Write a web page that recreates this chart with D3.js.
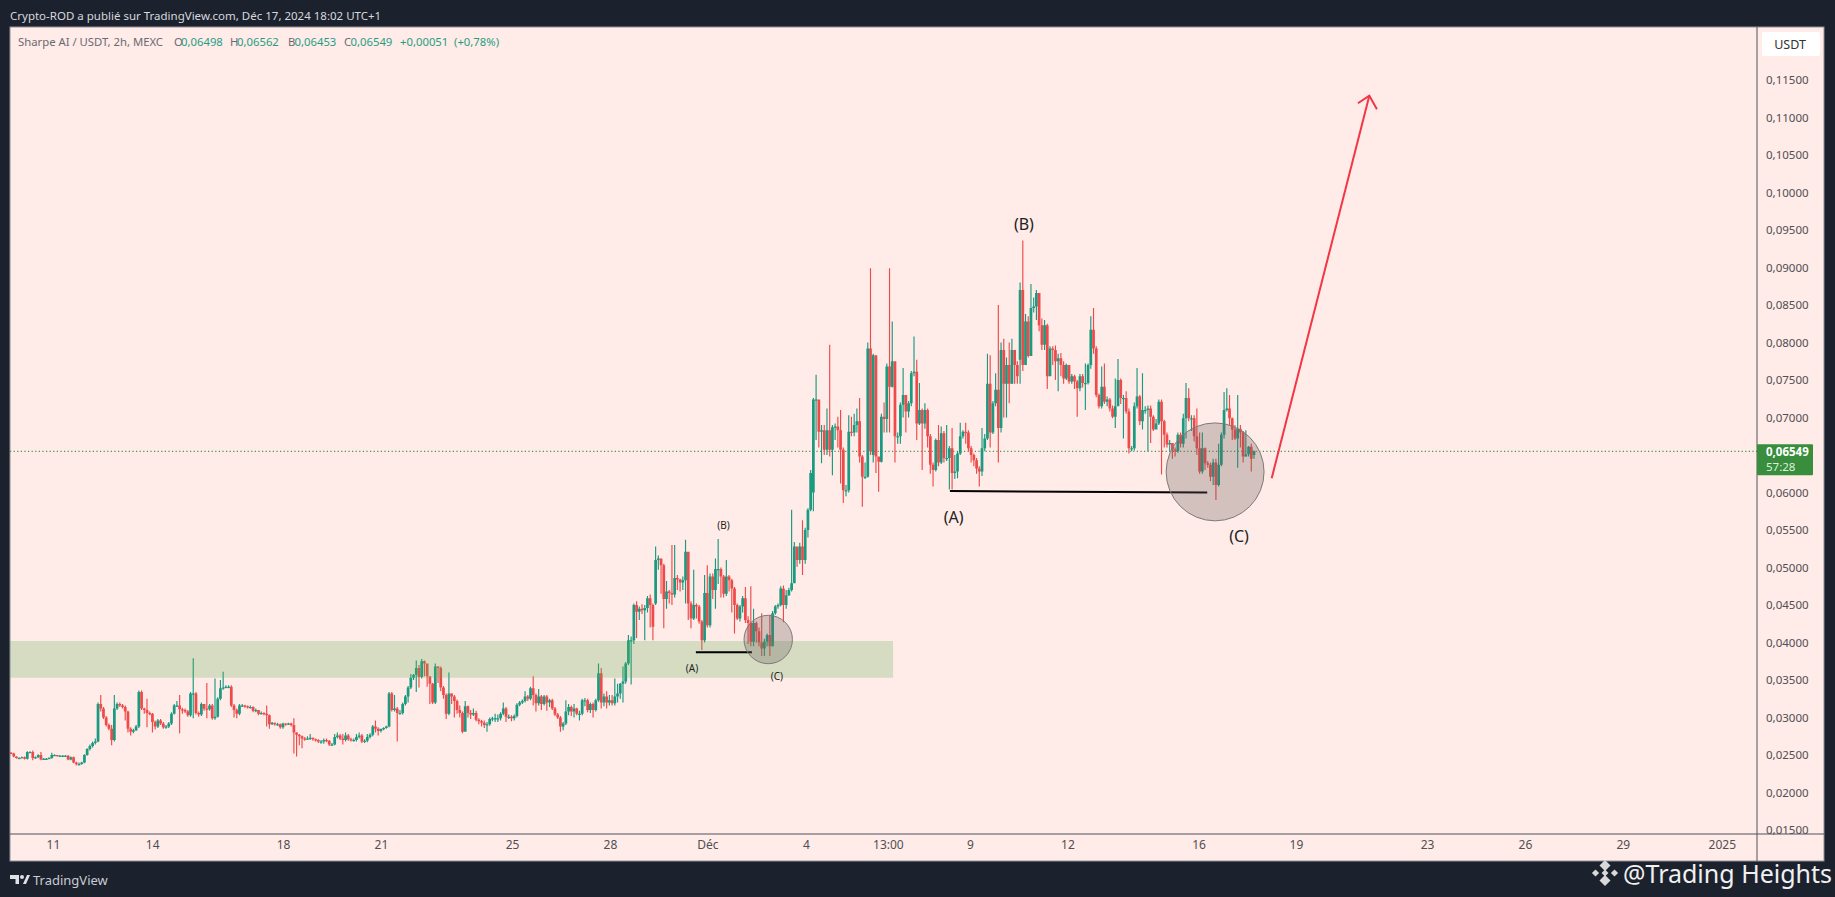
<!DOCTYPE html>
<html lang="fr"><head><meta charset="utf-8"><title>Sharpe AI / USDT</title>
<script src="https://cdn.jsdelivr.net/npm/d3@7/dist/d3.min.js"></script>
<style>html,body{margin:0;padding:0;background:#1c212e;overflow:hidden}svg{display:block}text{font-family:"Noto Sans",sans-serif}</style>
</head><body><svg id="c" width="1835" height="897"></svg>
<script>
// Prices are in units of 0.0001 USDT; one entry per 2h bar
const opens=[253,252,248,246,246,247,245,254,254,246,
247,250,244,245,245,246,250,250,249,249,
249,249,244,247,240,238,238,240,250,258,
262,266,268,318,312,300,290,285,270,312,
318,316,314,308,285,281,283,288,334,312,
310,306,305,294,288,296,292,287,288,292,
305,316,316,311,310,308,303,332,332,306,
304,318,312,311,316,299,301,325,339,340,
341,341,316,310,305,316,316,315,314,314,
309,310,305,306,305,303,291,293,291,291,
287,292,291,292,290,280,277,275,272,271,
272,273,271,270,268,268,270,269,264,264,
274,276,272,270,276,271,270,270,274,276,
268,269,274,277,288,285,282,285,286,288,
332,310,312,306,306,318,328,340,353,357,
366,354,375,372,355,345,320,368,366,340,
330,305,332,328,322,310,306,281,315,306,
304,306,297,295,293,290,291,298,299,299,
299,305,312,301,301,299,302,317,320,322,
328,325,339,330,319,328,318,328,320,323,
312,304,300,288,292,308,314,308,312,305,
305,323,323,310,318,310,323,359,320,328,
320,323,319,328,332,345,348,372,403,403,
450,441,445,443,446,459,450,452,510,512,
503,458,468,466,464,486,484,480,483,521,
452,432,450,448,428,403,466,423,488,470,
498,498,488,465,488,483,472,450,432,448,
459,430,426,401,426,415,400,392,401,410,
395,439,448,450,472,450,463,470,479,528,
510,528,510,550,577,600,724,724,681,683,
657,683,657,687,688,683,657,603,603,681,
680,690,695,648,621,621,792,650,783,648,
641,701,698,768,741,775,675,675,717,730,
708,719,759,761,692,710,692,710,675,637,
630,670,640,679,646,646,659,626,628,652,
675,681,680,659,650,643,632,628,659,672,
745,680,719,737,686,790,745,770,745,790,
770,777,870,770,828,782,846,848,866,823,
797,823,755,792,790,775,779,770,752,770,
748,755,748,739,755,746,746,770,817,792,
730,715,741,721,724,712,701,715,750,726,
726,708,659,659,715,728,695,710,710,712,
701,684,692,721,695,677,664,666,657,655,
677,665,699,726,699,699,675,659,628,659,
639,637,621,640,610,637,677,710,712,699,
684,672,685,680,648,651,661,650];
const closes=[252,248,246,246,247,245,254,254,246,247,
250,244,245,245,246,250,250,249,249,249,
249,244,247,240,238,238,240,250,258,262,
266,268,318,312,300,290,285,270,312,318,
316,314,308,285,281,283,288,334,312,310,
306,305,294,288,296,292,287,288,292,305,
316,316,311,310,308,303,332,332,306,304,
318,312,311,316,299,301,325,339,340,341,
341,316,310,305,316,316,315,314,314,309,
310,305,306,305,303,291,293,291,291,287,
292,291,292,290,280,277,275,272,271,272,
273,271,270,268,268,270,269,264,264,274,
276,272,270,276,271,270,270,274,276,268,
269,274,277,288,285,282,285,286,288,332,
310,312,306,306,318,328,340,353,357,366,
354,375,372,355,345,320,368,366,340,330,
305,332,328,322,310,306,281,315,306,304,
306,297,295,293,290,291,298,299,299,299,
305,312,301,301,299,302,317,320,322,328,
325,339,330,319,328,318,328,320,323,312,
304,300,288,292,308,314,308,312,305,305,
323,323,310,318,310,323,359,320,328,320,
323,319,328,332,345,348,372,403,403,450,
441,445,443,446,459,450,421,510,512,503,
458,468,466,464,486,484,480,483,521,452,
432,450,448,428,403,466,423,488,470,498,
498,488,465,488,483,472,450,432,448,459,
430,426,401,426,415,400,392,401,410,395,
439,448,450,472,450,463,470,479,528,510,
528,510,550,577,626,724,724,681,683,657,
683,657,687,688,683,657,603,603,681,680,
690,695,648,621,621,792,655,783,648,641,
701,698,768,741,775,675,675,717,730,708,
719,759,761,692,710,692,710,675,637,630,
670,640,679,646,646,659,626,628,652,675,
681,680,659,650,643,632,628,659,672,745,
680,719,737,686,790,745,770,745,790,770,
755,870,770,828,782,846,848,866,823,797,
823,755,792,790,775,779,770,752,770,748,
755,748,739,755,746,746,770,817,792,730,
715,741,721,724,712,701,715,750,726,726,
708,659,659,715,728,695,710,710,712,701,
684,692,721,695,677,664,666,657,655,677,
665,699,726,699,699,675,659,628,659,639,
637,621,640,610,637,677,710,712,699,684,
672,685,680,648,651,661,645,655];
const highs=[254,253,248,247,248,248,255,255,256,248,
251,254,246,246,247,253,251,250,250,250,
250,250,248,248,241,240,241,251,259,264,
268,272,320,330,314,302,292,290,330,320,
320,318,316,309,287,285,290,336,336,313,
325,308,306,296,298,298,294,290,294,307,
318,322,330,313,312,310,334,379,334,308,
320,314,346,318,318,352,327,350,361,343,
343,343,318,312,318,318,317,316,316,315,
312,308,308,307,316,304,294,293,293,292,
293,292,293,293,299,280,278,276,274,275,
278,273,272,271,270,272,272,270,266,278,
280,278,278,280,278,273,272,278,280,278,
271,278,279,290,296,287,284,287,289,334,
334,330,314,310,320,330,342,358,358,376,
370,378,376,370,347,346,372,368,368,342,
332,360,332,330,324,316,308,322,316,310,
312,309,299,297,296,294,300,301,305,304,
307,320,314,304,303,304,319,322,324,335,
330,341,355,332,338,330,330,330,325,325,
314,306,302,294,323,318,316,318,313,309,
325,326,325,320,320,325,372,366,332,335,
330,330,352,345,346,368,374,410,408,452,
455,448,451,450,462,464,452,528,516,506,
505,482,470,530,530,490,485,488,537,455,
455,497,452,450,430,490,503,492,492,512,
538,500,490,510,490,485,474,452,450,462,
474,435,475,445,428,420,439,405,412,437,
442,450,452,475,476,470,473,577,534,515,
533,563,553,579,630,726,757,685,690,690,
712,797,690,692,701,710,660,610,703,701,
705,712,726,650,640,800,899,785,762,645,
705,720,772,899,828,770,680,720,766,715,
722,762,808,777,746,712,719,712,678,640,
672,690,688,682,690,662,686,650,655,693,
683,693,683,662,652,646,635,686,678,785,
783,722,759,850,800,805,780,800,805,790,
775,880,936,838,835,878,860,870,840,832,
830,825,795,795,796,785,786,775,772,760,
758,757,750,758,758,772,772,835,846,795,
732,768,772,728,726,716,752,778,752,730,
735,712,662,720,766,730,759,715,716,716,
703,698,724,724,697,680,670,660,660,680,
680,705,746,739,703,703,712,680,680,660,
642,640,645,645,665,680,734,739,730,700,
690,730,690,682,683,662,665,656];
const lows=[251,247,245,245,246,244,244,253,243,245,
246,243,244,244,245,245,249,248,248,248,
248,243,243,239,236,236,237,239,249,256,
260,264,267,308,298,288,283,263,268,310,
314,312,296,280,276,279,282,286,310,305,
287,303,280,284,286,290,285,285,286,290,
304,314,279,305,306,301,301,299,304,301,
302,309,299,309,297,297,300,323,337,339,
339,314,300,299,303,314,313,312,312,307,
307,303,304,303,288,285,290,289,289,285,
285,289,290,288,252,248,263,259,269,270,
270,269,268,266,265,265,267,262,262,263,
272,270,264,268,269,268,268,268,272,266,
266,267,272,275,280,276,280,283,285,287,
308,308,268,304,304,316,320,338,350,334,
340,352,355,341,318,318,318,346,335,325,
298,303,318,300,305,300,279,304,300,298,
302,295,291,288,286,281,289,295,294,294,
296,303,294,298,295,296,300,315,318,320,
322,323,316,308,316,310,316,309,314,310,
302,298,281,283,290,303,302,300,303,296,
303,315,307,306,300,308,321,312,315,312,
316,316,316,320,325,320,345,370,344,398,
406,430,438,403,440,420,403,450,497,465,
419,445,452,450,460,470,468,470,452,430,
419,430,432,425,390,400,420,420,458,445,
478,460,460,462,468,440,412,430,428,440,
426,398,395,395,400,395,382,382,395,382,
395,437,445,448,427,445,462,468,495,501,
505,490,505,540,575,575,670,660,639,650,
650,648,623,670,660,612,586,595,600,675,
675,680,640,581,618,620,650,640,626,601,
640,680,680,680,740,640,665,665,700,680,
700,715,755,670,690,630,685,660,625,608,
628,635,638,640,642,604,604,618,619,650,
672,665,655,640,635,625,608,622,655,670,
660,678,715,640,680,700,700,719,745,745,
745,745,762,775,780,835,840,830,815,790,
790,738,760,770,750,735,755,745,750,745,
745,738,701,735,740,710,744,765,785,727,
712,712,718,715,708,699,686,719,718,672,
705,652,655,656,712,690,684,705,655,666,
682,685,690,624,660,660,655,645,648,653,
660,660,672,695,682,668,650,625,625,630,
633,615,610,590,608,635,672,708,690,670,
670,633,660,640,648,648,628,645];
const priceTicks=[150,200,250,300,350,400,450,500,550,600,700,750,800,850,900,950,1000,1050,1100,1150];
const timeTickBars=[15.4,51.9,100,136,184.2,220.2,256,292.3,322.4,352.6,388.4,436.6,472.4,520.6,556.6,592.6,629];
const timeTickLabels=["11","14","18","21","25","28","Déc","4","13:00","9","12","16","19","23","26","29","2025"];
const lastPrice=654.9;
const zoneBars=[-10,324.3], zonePrices=[402,353];
const smallBase=[[251.8,387],[272.4,387]];
const bigBase=[[345.2,602],[439.8,600]];
const circleCentres=[[278.4,404,8.9],[442.7,627.5,18]]; // bar, price, radius in bars
const arrowShaft=[[463.5,619],[499.4,1129]];
const arrowHead=[[495.2,1119],[499.4,1129],[502.2,1111]];
const waveLabels=[["(A)",346.6,567,16],["(B)",372.4,958,16],["(C)",451.5,542,16],["(A)",250.4,366,10],["(B)",262,557,10],["(C)",281.6,355,10]];

const UP="#1a9a80",DOWN="#ef4a4a",INK="#4f4f55",BG="#ffebe7",DARK="#1c212e";
const svg=d3.select("#c");
const L=10,R=1757,OUTER=1824,T=27,AX=834,B=861;
svg.append("rect").attr("width",1835).attr("height",897).attr("fill",DARK);
svg.append("rect").attr("x",L).attr("y",T).attr("width",OUTER-L).attr("height",B-T).attr("fill",BG).attr("stroke","#8f9299").attr("stroke-width",1);
const x=d3.scaleLinear().domain([0,457]).range([11,1254]);
const y=d3.scaleLinear().domain([150,1150]).range([830,80]);
const line=d3.line().x(d=>x(d[0])).y(d=>y(d[1]));
svg.append("defs").append("clipPath").attr("id","pane").append("rect").attr("x",L).attr("y",T).attr("width",R-L).attr("height",AX-T);
const pane=svg.append("g").attr("clip-path","url(#pane)");

pane.append("line").attr("x1",L).attr("x2",R).attr("y1",y(lastPrice)).attr("y2",y(lastPrice)).attr("stroke","#3c9a4a").attr("stroke-dasharray","1.2 2.4").attr("stroke-width",1.1);

const bars=d3.range(closes.length);
const colour=i=>closes[i]>=opens[i]?UP:DOWN;
pane.append("g").selectAll("line").data(bars).join("line")
 .attr("x1",i=>x(i)).attr("x2",i=>x(i)).attr("y1",i=>y(highs[i])).attr("y2",i=>y(lows[i]))
 .attr("stroke",colour).attr("stroke-width",1.15);
const w=x(1)-x(0);
pane.append("g").selectAll("rect").data(bars).join("rect")
 .attr("x",i=>x(i)-w/2).attr("width",w)
 .attr("y",i=>y(Math.max(opens[i],closes[i])))
 .attr("height",i=>Math.max(1.2,Math.abs(y(opens[i])-y(closes[i]))))
 .attr("fill",colour);

// drawings
pane.append("rect").attr("x",x(zoneBars[0])).attr("width",x(zoneBars[1])-x(zoneBars[0]))
 .attr("y",y(zonePrices[0])).attr("height",y(zonePrices[1])-y(zonePrices[0]))
 .attr("fill","#57b054").attr("fill-opacity",0.25);
pane.append("path").attr("d",line(smallBase)).attr("stroke","#000").attr("stroke-width",2).attr("fill","none");
pane.append("path").attr("d",line(bigBase)).attr("stroke","#000").attr("stroke-width",2).attr("fill","none");
pane.append("g").selectAll("circle").data(circleCentres).join("circle")
 .attr("cx",d=>x(d[0])).attr("cy",d=>y(d[1])).attr("r",d=>x(d[2])-x(0))
 .attr("fill","#6e5f5f").attr("fill-opacity",0.3).attr("stroke","#7d7a7a").attr("stroke-width",1);
pane.append("path").attr("d",line(arrowShaft)).attr("stroke","#f23645").attr("stroke-width",2).attr("fill","none");
pane.append("path").attr("d",line(arrowHead)).attr("stroke","#f23645").attr("stroke-width",2).attr("fill","none");
pane.append("g").selectAll("text").data(waveLabels).join("text")
 .attr("x",d=>x(d[1])).attr("y",d=>y(d[2])).attr("text-anchor","middle").attr("dominant-baseline","central")
 .attr("font-size",d=>d[3]).attr("fill","#222").text(d=>d[0]);

// axes
const fmt=v=>(v/10000).toFixed(5).replace(".",",");
const yAxis=svg.append("g").attr("transform",`translate(${R},0)`).call(d3.axisRight(y).tickValues(priceTicks).tickSize(0).tickPadding(9).tickFormat(fmt));
yAxis.select(".domain").remove();
yAxis.selectAll("text").attr("fill",INK).attr("font-size",11.5).attr("font-family",'"Noto Sans",sans-serif');
const xAxis=svg.append("g").attr("transform",`translate(0,${AX})`).call(d3.axisBottom(x).tickValues(timeTickBars).tickSize(0).tickPadding(6).tickFormat((d,i)=>timeTickLabels[i]));
xAxis.select(".domain").remove();
xAxis.selectAll("text").attr("fill",INK).attr("font-size",12).attr("font-family",'"Noto Sans",sans-serif');
svg.append("line").attr("x1",L).attr("x2",OUTER).attr("y1",AX).attr("y2",AX).attr("stroke","#50535e");
svg.append("line").attr("x1",R).attr("x2",R).attr("y1",T).attr("y2",B).attr("stroke","#50535e");

// currency button
svg.append("rect").attr("x",1762).attr("y",32).attr("width",58).attr("height",24).attr("rx",2).attr("fill","#fff");
svg.append("text").attr("x",1790).attr("y",44).attr("text-anchor","middle").attr("dominant-baseline","central").attr("font-size",12.5).attr("fill","#333").text("USDT");

// last price tag
const tagY=y(lastPrice);
svg.append("rect").attr("x",R).attr("y",tagY-7).attr("width",56).attr("height",31).attr("rx",1).attr("fill","#388e3c");
svg.append("text").attr("x",1766).attr("y",tagY+0.5).attr("dominant-baseline","central").attr("font-size",11.5).attr("font-weight",700).attr("fill","#fff").text("0,06549");
svg.append("text").attr("x",1766).attr("y",tagY+15.5).attr("dominant-baseline","central").attr("font-size",11.5).attr("fill","#dff0df").text("57:28");

// header + legend
svg.append("text").attr("x",10).attr("y",15).attr("dominant-baseline","central").attr("font-size",11.5).attr("fill","#d6d8dd").text("Crypto-ROD a publié sur TradingView.com, Déc 17, 2024 18:02 UTC+1");
const legend=[["Sharpe AI / USDT, 2h, MEXC",18,"#6a6a72"],["O",174,"#6a6a72"],["0,06498",181,"#1f9e86"],["H",230,"#6a6a72"],["0,06562",237,"#1f9e86"],["B",288,"#6a6a72"],["0,06453",294.5,"#1f9e86"],["C",344,"#6a6a72"],["0,06549",350.5,"#1f9e86"],["+0,00051",400,"#1f9e86"],["(+0,78%)",454,"#1f9e86"]];
svg.append("g").selectAll("text").data(legend).join("text").attr("x",d=>d[1]).attr("y",41).attr("dominant-baseline","central").attr("font-size",11.3).attr("fill",d=>d[2]).text(d=>d[0]);

// footer
const logo=svg.append("g").attr("transform","translate(10,875)").attr("fill","#dfe1e5");
logo.append("path").attr("d","M0 0H9V9H5.5V4H0Z");
logo.append("circle").attr("cx",12).attr("cy",2).attr("r",2);
logo.append("path").attr("d","M13 9L17 0H20L16 9Z");
svg.append("text").attr("x",33).attr("y",880).attr("dominant-baseline","central").attr("font-size",13).attr("fill","#c9ccd2").text("TradingView");
const diamond=svg.append("g").attr("transform","translate(1605,873)").attr("fill","#d8d8d8");
[[0,-7.5,5.5],[0,7.5,5.5],[-9.5,0,3.6],[9.5,0,3.6],[0,0,3.4]].forEach(([dx,dy,r])=>{
 diamond.append("path").attr("d",`M${dx} ${dy-r}L${dx+r} ${dy}L${dx} ${dy+r}L${dx-r} ${dy}Z`);
});
svg.append("text").attr("x",1623).attr("y",873).attr("dominant-baseline","central").attr("font-size",25).attr("fill","#f0f0f0").text("@Trading Heights");
</script></body></html>
